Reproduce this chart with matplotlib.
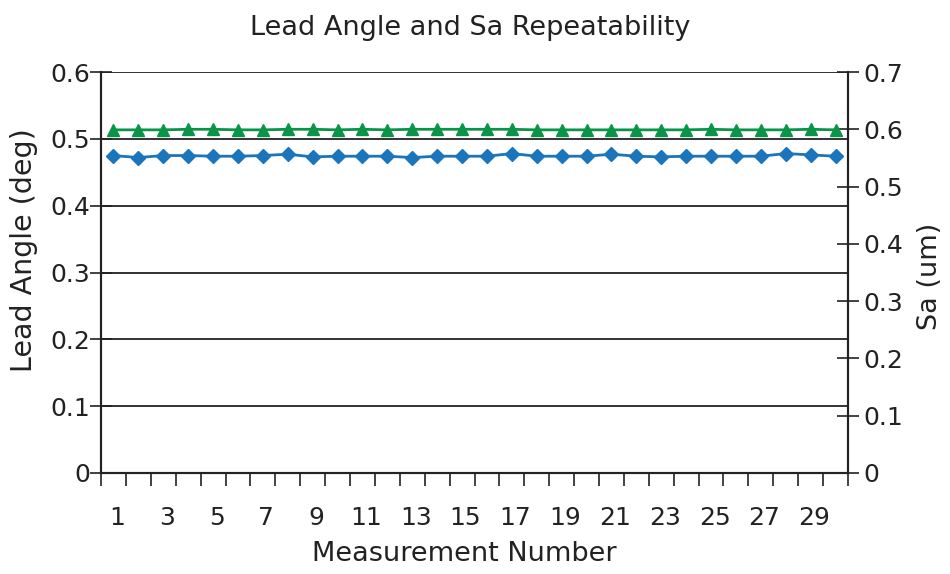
import numpy as np
import matplotlib.pyplot as plt
import matplotlib.transforms as mtransforms

plt.rcParams['font.family'] = ['DejaVu Sans']

measurement = np.arange(1, 31)
lead_angle = [0.475, 0.472, 0.475, 0.475, 0.474, 0.474, 0.475, 0.477, 0.473, 0.474,
              0.474, 0.474, 0.472, 0.474, 0.474, 0.474, 0.478, 0.474, 0.474, 0.474,
              0.477, 0.474, 0.473, 0.474, 0.474, 0.474, 0.474, 0.478, 0.476, 0.474]
sa = [0.599, 0.599, 0.599, 0.600, 0.600, 0.599, 0.599, 0.600, 0.600, 0.599,
      0.600, 0.599, 0.600, 0.600, 0.600, 0.600, 0.600, 0.599, 0.599, 0.599,
      0.599, 0.599, 0.599, 0.599, 0.600, 0.599, 0.599, 0.599, 0.600, 0.599]
xtick_labels = [str(i) for i in range(1, 31, 2)]

blue = '#1a75bc'
green = '#0a9447'
ink = '#222222'

fig = plt.figure(figsize=(9.5, 5.74), dpi=100)
ax = fig.add_axes([101 / 950, 1 - 473 / 574, 747 / 950, 401 / 574])
ax2 = ax.twinx()

ax.set_xlim(0.5, 30.5)
ax.set_ylim(0, 0.6)
ax2.set_ylim(0, 0.7)

for y in np.arange(0.1, 0.61, 0.1):
    ax.axhline(y, color=ink, lw=1.3, zorder=0)

ax.plot(measurement, lead_angle, color=blue, lw=2, marker='D', ms=7,
        zorder=3)
ax2.plot(measurement, sa, color=green, lw=2, marker='^', ms=8, zorder=3)

for a in (ax, ax2):
    a.spines['top'].set_visible(False)
    for s in ('left', 'right', 'bottom'):
        a.spines[s].set_linewidth(1.5)
        a.spines[s].set_color(ink)

ax.set_yticks(np.arange(0, 0.61, 0.1))
ax.set_yticklabels(['0', '0.1', '0.2', '0.3', '0.4', '0.5', '0.6'])
ax2.set_yticks(np.arange(0, 0.71, 0.1))
ax2.set_yticklabels(['0', '0.1', '0.2', '0.3', '0.4', '0.5', '0.6', '0.7'])
ax.tick_params(axis='y', direction='inout', length=16, width=1.2,
               labelsize=18, pad=0, colors=ink)
ax2.tick_params(axis='y', direction='inout', length=16, width=1.2,
                labelsize=18, pad=3, colors=ink)

ax.set_xticks(np.arange(0.5, 31, 1))
ax.set_xticklabels([])
ax.set_xticks(np.arange(1, 31, 2), minor=True)
ax.set_xticklabels(xtick_labels, minor=True)
ax.tick_params(axis='x', which='major', direction='out', length=9, width=1.2,
               colors=ink)
ax.tick_params(axis='x', which='minor', length=0, labelsize=18, pad=24,
               colors=ink)
shift = mtransforms.ScaledTranslation(3.5 / 100, 0, fig.dpi_scale_trans)
for lbl in ax.get_xticklabels(minor=True):
    lbl.set_transform(lbl.get_transform() + shift)

ax.set_xlabel('Measurement Number', fontsize=19.5, labelpad=8, color=ink,
              x=0.487)
ax.set_ylabel('Lead Angle (deg)', fontsize=20.5, labelpad=9, color=ink,
              y=0.555)
ax2.set_ylabel('Sa (um)', fontsize=19.5, labelpad=10, color=ink, y=0.49)
fig.text(0.495, 1 - 35 / 574, 'Lead Angle and Sa Repeatability', fontsize=19.5,
         ha='center', va='baseline', color=ink)

fig.savefig('out.png', dpi=100)
